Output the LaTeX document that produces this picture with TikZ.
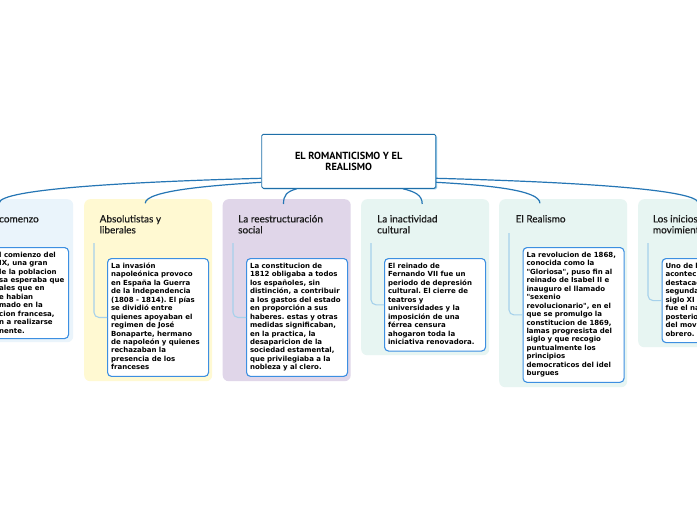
\documentclass[tikz,border=0pt]{standalone}
\usepackage{fontspec}
\setmainfont{Lato}
\newfontfamily\titlefont{Lato}[FakeBold=0.4]
\newfontfamily\bodyfont{DejaVu Sans}
\newfontfamily\rootfont{PT Sans}
\definecolor{pblue}{HTML}{EAF4FB}
\definecolor{pyellow}{HTML}{FFF9D2}
\definecolor{ppurple}{HTML}{E0D6E9}
\definecolor{pmint}{HTML}{E7F5F2}
\definecolor{cborder}{HTML}{3D8FE1}
\definecolor{subline}{HTML}{A6D1EB}
\definecolor{mainline}{HTML}{2576B5}
\definecolor{rootborder}{HTML}{1E6FA8}
\definecolor{rootshadow}{HTML}{8EC5E6}
\hyphenpenalty=10000
\exhyphenpenalty=10000
\frenchspacing
\begin{document}
\begin{tikzpicture}[x=1pt,y=-1pt,
  panel/.style={rounded corners=6pt, inner sep=0pt, draw=none, anchor=north west},
  cbox/.style={draw=cborder, line width=1.1pt, fill=white, rounded corners=4pt, anchor=north west, inner sep=0pt},
  child/.style={cbox, text width=94pt, inner xsep=3.5pt, inner ysep=4pt, align=left,
    font=\bodyfont\bfseries\fontsize{7}{8.45}\selectfont\frenchspacing},
  ctext/.style={inner sep=0pt, align=left, anchor=north west,
    font=\bodyfont\bfseries\fontsize{7}{8.45}\selectfont},
  ttl/.style={anchor=north west, inner sep=0pt, align=left, text=black!90,
    font=\titlefont\fontsize{10}{11}\selectfont},
  rootbox/.style={draw=rootborder, line width=0.9pt, fill=white, rounded corners=1.5pt,
    minimum width=174pt, minimum height=54pt, inner sep=0pt, align=center,
    font=\rootfont\bfseries\fontsize{10.3}{11}\selectfont},
  mainc/.style={draw=mainline, line width=1.2pt},
  subc/.style={draw=subline, line width=1.1pt, rounded corners=5pt}
]
\useasboundingbox (0,0) rectangle (697,520);
\clip (0,0) rectangle (697,520);
\fill[white] (0,0) rectangle (697,520);

% panels
\node[panel, fill=pblue,   minimum width=128pt, minimum height=143pt] (p1) at (-55,199) {};
\node[panel, fill=pyellow, minimum width=128pt, minimum height=182pt] (p2) at (84,199) {};
\node[panel, fill=ppurple, minimum width=128pt, minimum height=182pt] (p3) at (222.5,199) {};
\node[panel, fill=pmint,   minimum width=128pt, minimum height=156pt] (p4) at (361,199) {};
\node[panel, fill=pmint,   minimum width=128pt, minimum height=188pt] (p5) at (499,199) {};
\node[panel, fill=pmint,   minimum width=128pt, minimum height=148pt] (p6) at (638,199) {};

% root
\fill[rootshadow, rounded corners=1.5pt] (262.5,135.3) rectangle (437,189.3);
\node[rootbox] (root) at (348.7,161.3) {EL ROMANTICISMO Y EL\\REALISMO};

% titles
\node[ttl] (t1) at (-1,214.5) {\strut comenzo};
\node[ttl] (t2) at (99.5,214.5) {\strut Absolutistas y\\liberales};
\node[ttl] (t3) at (238,214.5) {\strut La reestructuración\\social};
\node[ttl] (t4) at (377,214.5) {\strut La inactividad\\cultural};
\node[ttl] (t5) at (515.5,214.5) {\strut El Realismo};
\node[ttl] (t6) at (652.7,214.5) {\strut Los inicios\\movimient};

% children
\node[cbox, minimum width=100pt, minimum height=91pt] (c1) at (-32,247) {};
\node[ctext] (c1t) at (-1,251) {\strut l comienzo del\\IX, una gran\\le la poblacion\\sa esperaba que\\ales que en\\e habian\\mado en la\\cion francesa,\\n a realizarse\\nente.\strut};

\node[child] (c2) at (107,258) {\strut La invasión\\napoleónica provoco\\en España la Guerra\\de la Independencia\\(1808 - 1814). El pías\\se dividió entre\\quienes apoyaban el\\regimen de José\\Bonaparte, hermano\\de napoleón y quienes\\rechazaban la\\presencia de los\\franceses\strut};

\node[child] (c3) at (246,258) {\strut La constitucion de\\1812 obligaba a todos\\los españoles, sin\\distinción, a contribuir\\a los gastos del estado\\en proporción a sus\\haberes. estas y otras\\medidas significaban,\\en la practica, la\\desaparicion de la\\sociedad estamental,\\que privilegiaba a la\\nobleza y al clero.\strut};

\node[child] (c4) at (384,258) {\strut El reinado de\\Fernando VII fue un\\periodo de depresión\\cultural. El cierre de\\teatros y\\universidades y la\\imposición de una\\férrea censura\\ahogaron toda la\\iniciativa renovadora.\strut};

\node[child] (c5) at (522.5,247) {\strut La revolucion de 1868,\\conocida como la\\"Gloriosa", puso fin al\\reinado de Isabel II e\\inauguro el llamado\\"sexenio\\revolucionario", en el\\que se promulgo la\\constitucion de 1869,\\lamas progresista del\\siglo y que recogio\\puntualmente los\\principios\\democraticos del idel\\burgues\strut};

\node[child] (c6) at (661.5,258) {\strut Uno de l\\acontec\\destacad\\segunda\\siglo XI\\fue el na\\posterio\\del mov\\obrero.\strut};

% connectors inside panels
\draw[subc] ([shift={(10,44)}]p2.north west) |- (c2.west);
\draw[subc] ([shift={(10.5,44)}]p3.north west) |- (c3.west);
\draw[subc] ([shift={(10,44)}]p4.north west) |- (c4.west);
\draw[subc] ([shift={(10,34)}]p5.north west) |- (c5.west);
\draw[subc] ([shift={(10,44)}]p6.north west) |- (c6.west);

% main connectors
\draw[mainc] ([shift={(0,17)}]root.west) .. controls +(-131,3.5) and +(0,-14) .. ([shift={(-10,4)}]p1.north);
\draw[mainc] ([shift={(0,21)}]root.west) .. controls +(-47,3) and +(0,-13) .. ([shift={(-3,4.3)}]p2.north);
\draw[mainc] ([shift={(-52,0)}]root.south) .. controls +(-10,3) and +(0,-9) .. ([shift={(-3.2,5)}]p3.north);
\draw[mainc] ([shift={(54.3,0)}]root.south) .. controls +(12,3) and +(0,-9) .. ([shift={(-3,5)}]p4.north);
\draw[mainc] ([shift={(0,21)}]root.east) .. controls +(54,3) and +(0,-13) .. ([shift={(-23.25,4.3)}]p5.north);
\draw[mainc] ([shift={(0,17)}]root.east) .. controls +(131,3.5) and +(0,-14) .. ([shift={(-4,4)}]p6.north);
\end{tikzpicture}
\end{document}
